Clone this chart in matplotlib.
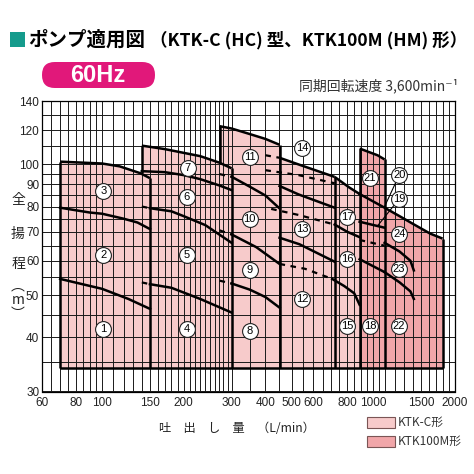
import matplotlib
matplotlib.use('Agg')
import matplotlib.pyplot as plt
from matplotlib.patches import FancyBboxPatch, Rectangle
from matplotlib.ticker import NullLocator

plt.rcParams['font.family'] = ['Noto Sans CJK JP', 'DejaVu Sans']
NUM_FONT = ['Liberation Sans', 'DejaVu Sans']

LIGHT = '#f7cbcb'
DARK = '#f1a6a9'
BASE = 34  # 適用範囲の下端 (m)

# 適用範囲の上端カーブ (L/min, m)
a_x = [70, 100, 116, 138, 150]
a_y = [101.5, 100.5, 99, 95.5, 93]
b_x = [140, 170, 230, 270, 300]
b_y = [110.5, 108.5, 104.5, 101, 98]
c_x = [271, 300, 350, 400, 451]
c_y = [122.5, 121, 117.5, 114.5, 111]
d_x = [451, 530, 720]
d_y = [103.6, 100, 93.6]
e_x = [720, 815, 890]
e_y = [93.6, 88.5, 85.5]
f_x = [890, 1036, 1100]
f_y = [108.8, 105, 102.7]
g_x = [1100, 1250, 1420, 1620, 1800]
g_y = [79.5, 76, 72.6, 69.3, 67.5]

# 範囲内の性能曲線（実線）
c2_x = [70, 90, 100, 120, 135, 150]
c2_y = [79.5, 77.5, 77, 75, 73.5, 71]
c1_x = [70, 100, 125, 150]
c1_y = [54.5, 51.7, 49, 46.5]
c6_x = [140, 170, 200, 230, 270, 300]
c6_y = [96.5, 96, 94.5, 92.5, 89.5, 87.3]
c5_x = [150, 180, 200, 240, 270, 300]
c5_y = [79.3, 78, 76, 72.5, 69, 66]
c4_x = [150, 180, 230, 300]
c4_y = [53, 52, 49, 45.6]
c10_x = [300, 350, 400, 451]
c10_y = [93.7, 88.9, 84.8, 79.2]
c9_x = [300, 370, 451]
c9_y = [69, 64.5, 59]
c8_x = [300, 350, 400, 451]
c8_y = [53.2, 51.5, 49.5, 46.8]
c13_x = [451, 530, 720]
c13_y = [89.2, 85.3, 79.5]
c12_x = [451, 534, 720]
c12_y = [67.8, 65.5, 59.7]
e1_x = [720, 800, 890]
e1_y = [72.7, 70, 68]
c15_x = [705, 780, 850, 890]
c15_y = [54.5, 52.5, 50.5, 47.5]
f0_x = [890, 1100]
f0_y = [85.5, 79.5]
f1_x = [890, 1100]
f1_y = [73.8, 71.5]
f3_x = [890, 1100]
f3_y = [60.5, 56.5]
g1_x = [1100, 1250, 1370, 1410]
g1_y = [66, 63, 60, 57]
g2_x = [1100, 1250, 1370, 1410]
g2_y = [56.5, 53.5, 51, 49]

# 破線
dash_b5_x, dash_b5_y = [140, 150], [80, 79.3]
dash_b4_x, dash_b4_y = [140, 150], [53.5, 53]
dash_c10_x, dash_c10_y = [271, 300], [95, 93.7]
dash_c9_x, dash_c9_y = [271, 300], [70.5, 69]
dash_c8_x, dash_c8_y = [271, 300], [54, 53.2]
dash_d14_x, dash_d14_y = [400, 451], [105, 103.6]
dash_d1_x, dash_d1_y = [400, 530, 720], [97, 94.5, 90.5]
dash_d2_x, dash_d2_y = [420, 530, 720], [79, 76.5, 72.7]
dash_d3_x, dash_d3_y = [451, 560, 705], [59, 57.5, 54.5]
dash_f_x, dash_f_y = [890, 1100], [67, 65]

# 番号
label_num = list(range(1, 25))
label_x = [101, 101, 101, 205, 205, 205, 207, 350, 350, 350, 350,
           547, 547, 547, 800, 800, 800, 975, 1245, 1245, 970, 1245, 1245, 1245]
label_y = [41.7, 62, 87, 41.7, 62, 84, 98, 41.3, 57, 75, 104,
           49, 71, 109, 42.5, 60.5, 75.7, 42.5, 83.3, 94.5, 93, 42.5, 57.5, 69]

x_ticks = [60, 80, 100, 150, 200, 300, 400, 500, 600, 800, 1000, 1500, 2000]
y_ticks = [30, 40, 50, 60, 70, 80, 90, 100, 120, 140]
x_grid = (list(range(60, 100, 5)) + list(range(100, 300, 10))
          + list(range(300, 1100, 50)) + list(range(1100, 2001, 100)))
y_grid = list(range(30, 100, 5)) + list(range(100, 141, 10))

W = 474.0
fig = plt.figure(figsize=(4.74, 4.74), dpi=100)
ax = fig.add_axes([42 / W, 1 - 391.5 / W, 413 / W, 290.5 / W])
ax.set_xscale('log')
ax.set_yscale('log')
ax.set_xlim(60, 2000)
ax.set_ylim(30, 140)

# 範囲の塗り
tops = [(a_x, a_y, LIGHT), (b_x, b_y, LIGHT), (c_x, c_y, LIGHT), (d_x, d_y, LIGHT),
        (e_x, e_y, LIGHT), (f_x, f_y, DARK), (g_x, g_y, DARK)]
for tx, ty, col in tops:
    ax.fill(tx + [tx[-1], tx[0]], ty + [BASE, BASE], color=col, lw=0, zorder=1)

# 方眼
ax.vlines(x_grid, 30, 140, color='#1a1a1a', lw=0.7, zorder=2)
ax.hlines(y_grid, 60, 2000, color='#1a1a1a', lw=0.7, zorder=2)

lw = 1.8
for tx, ty, col in tops:
    ax.plot(tx, ty, color='black', lw=lw, zorder=3, solid_capstyle='butt')
    ax.vlines(tx[-1], BASE, ty[-1], color='black', lw=lw, zorder=3)
# 左端
ax.vlines(a_x[0], BASE, a_y[0], color='black', lw=lw, zorder=3)
ax.vlines(b_x[0], 95.5, b_y[0], color='black', lw=lw, zorder=3)
ax.vlines(c_x[0], 101, c_y[0], color='black', lw=lw, zorder=3)
ax.vlines(f_x[0], 85.5, f_y[0], color='black', lw=lw, zorder=3)
ax.hlines(BASE, 70, 1800, color='black', lw=lw, zorder=3)

solid = [(c2_x, c2_y), (c1_x, c1_y), (c6_x, c6_y), (c5_x, c5_y), (c4_x, c4_y),
         (c10_x, c10_y), (c9_x, c9_y), (c8_x, c8_y), (c13_x, c13_y), (c12_x, c12_y),
         (e1_x, e1_y), (c15_x, c15_y), (f0_x, f0_y), (f1_x, f1_y), (f3_x, f3_y),
         (g1_x, g1_y), (g2_x, g2_y)]
for sx, sy in solid:
    ax.plot(sx, sy, color='black', lw=lw, zorder=3)

dashed = [(dash_b5_x, dash_b5_y), (dash_b4_x, dash_b4_y), (dash_c10_x, dash_c10_y),
          (dash_c9_x, dash_c9_y), (dash_c8_x, dash_c8_y), (dash_d14_x, dash_d14_y),
          (dash_d1_x, dash_d1_y), (dash_d2_x, dash_d2_y), (dash_d3_x, dash_d3_y),
          (dash_f_x, dash_f_y)]
for sx, sy in dashed:
    ax.plot(sx, sy, color='black', lw=1.6, zorder=3, dashes=(2.5, 2.5))

# 引出線 (19, 20)
ax.plot([1245, 1100], [94.5, 80], color='black', lw=0.8, zorder=4)
ax.plot([1245, 1036], [83.3, 72.2], color='black', lw=0.8, zorder=4)

ax.scatter(label_x, label_y, s=130, facecolor='white', edgecolor='#222222',
           lw=0.8, zorder=5)
for n, lx, ly in zip(label_num, label_x, label_y):
    ax.text(lx, ly, str(n), ha='center', va='center', fontsize=8,
            family=NUM_FONT, zorder=6)

ax.xaxis.set_minor_locator(NullLocator())
ax.yaxis.set_minor_locator(NullLocator())
ax.set_xticks(x_ticks)
ax.set_xticklabels([str(v) for v in x_ticks])
ax.set_yticks(y_ticks)
ax.set_yticklabels([str(v) for v in y_ticks])
ax.tick_params(length=0, labelsize=8.5, colors='#222222')
ax.tick_params(axis='x', pad=4)
ax.tick_params(axis='y', pad=2)
for lab in ax.get_xticklabels() + ax.get_yticklabels():
    lab.set_family(NUM_FONT)
for s in ax.spines.values():
    s.set_linewidth(0.9)
    s.set_color('black')

# 軸ラベル
fig.text(237 / W, 1 - 428 / W, '吐　出　し　量　（L/min）', ha='center', va='center',
         fontsize=8.8, color='#222222')
for ch, py in [('全', 200), ('揚', 234), ('程', 264), ('︵', 286), ('m', 300), ('︶', 314)]:
    fig.text(18 / W, 1 - py / W, ch, ha='center', va='center', fontsize=10,
             color='#222222')

# タイトル
fig.add_artist(Rectangle((10 / W, 1 - 47 / W), 15 / W, 15 / W,
                         transform=fig.transFigure, fc='#159b8c', ec='none'))
fig.text(28 / W, 1 - 40 / W, 'ポンプ適用図', ha='left', va='center', fontsize=14,
         fontweight='bold')
fig.text(150 / W, 1 - 40 / W, '（KTK-C (HC) 型、KTK100M (HM) 形）', ha='left',
         va='center', fontsize=12.6, fontweight='bold')

# 60Hz
fig.add_artist(FancyBboxPatch((42 / W, 1 - 88 / W), 113 / W, 26 / W,
                              boxstyle='round,pad=0,rounding_size=0.027',
                              transform=fig.transFigure, fc='#e1187a', ec='none'))
fig.text(98 / W, 1 - 75 / W, '60Hz', ha='center', va='center', fontsize=17,
         fontweight='bold', color='white', family=NUM_FONT)
fig.text(458 / W, 1 - 86 / W, '同期回転速度 3,600min⁻¹', ha='right', va='center',
         fontsize=10, color='#333333')

# 凡例
for py, col, txt in [(428, LIGHT, 'KTK-C形'), (447, DARK, 'KTK100M形')]:
    fig.add_artist(Rectangle((367 / W, 1 - py / W), 28 / W, 11 / W,
                             transform=fig.transFigure, fc=col, ec='#7a5555', lw=0.8))
    fig.text(398 / W, 1 - (py - 5.5) / W, txt, ha='left', va='center', fontsize=8.5,
             color='#333333')

fig.savefig('out.png', dpi=100)
